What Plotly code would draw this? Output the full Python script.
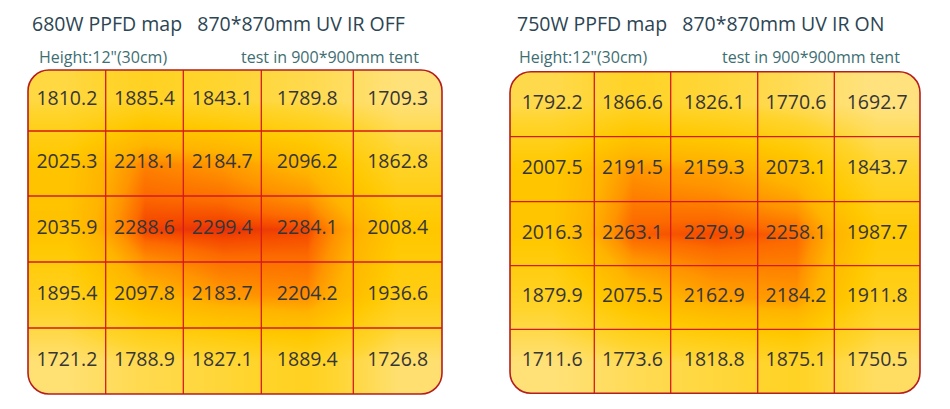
import plotly.graph_objects as go

# ---------------- data ----------------
panel_titles = ["680W PPFD map   870*870mm UV IR OFF", "750W PPFD map   870*870mm UV IR ON"]
height_labels = ['Height:12"(30cm)', 'Height:12"(30cm)']
tent_labels = ["test in 900*900mm tent", "test in 900*900mm tent"]

ppfd_off = [
    [1810.2, 1885.4, 1843.1, 1789.8, 1709.3],
    [2025.3, 2218.1, 2184.7, 2096.2, 1862.8],
    [2035.9, 2288.6, 2299.4, 2284.1, 2008.4],
    [1895.4, 2097.8, 2183.7, 2204.2, 1936.6],
    [1721.2, 1788.9, 1827.1, 1889.4, 1726.8],
]
ppfd_on = [
    [1792.2, 1866.6, 1826.1, 1770.6, 1692.7],
    [2007.5, 2191.5, 2159.3, 2073.1, 1843.7],
    [2016.3, 2263.1, 2279.9, 2258.1, 1987.7],
    [1879.9, 2075.5, 2162.9, 2184.2, 1911.8],
    [1711.6, 1773.6, 1818.8, 1875.1, 1750.5],
]

# ---------------- layout (pixel geometry) ----------------
W, H = 950, 409
panels = [
    dict(z=ppfd_off,
         xe=[28, 105.7, 183.3, 261.3, 353.3, 442],
         ye=[70, 131, 196, 262, 328, 394],
         title_x=30, sub_x=37, tent_x=421),
    dict(z=ppfd_on,
         xe=[510, 594.3, 670.7, 757.7, 834.3, 920],
         ye=[71.7, 136.7, 201.7, 265.7, 329.3, 393.3],
         title_x=515, sub_x=517, tent_x=902),
]

colorscale = [
    [0.00, "#FFE27E"],
    [0.25, "#FFD42C"],
    [0.50, "#FFC800"],
    [0.70, "#FFB400"],
    [0.82, "#FF9400"],
    [0.92, "#FC6A00"],
    [0.97, "#F44800"],
    [1.00, "#E6300A"],
]
ZMIN, ZMAX = 1700, 2300

GRID = "#D41A1A"
BORDER = "#B51E1E"
K = 0.5523
FONT = "Open Sans"


def rounded_rect(x0, y0, x1, y1, r):
    k = r * (1 - K)
    return (f"M {x0+r},{y0} L {x1-r},{y0} C {x1-k},{y0} {x1},{y0+k} {x1},{y0+r} "
            f"L {x1},{y1-r} C {x1},{y1-k} {x1-k},{y1} {x1-r},{y1} "
            f"L {x0+r},{y1} C {x0+k},{y1} {x0},{y1-k} {x0},{y1-r} "
            f"L {x0},{y0+r} C {x0},{y0+k} {x0+k},{y0} {x0+r},{y0} Z")


def corner_masks(x0, y0, x1, y1, r, e=3):
    k = r * (1 - K)
    return [
        f"M {x0-e},{y0-e} L {x0+r},{y0-e} L {x0+r},{y0} C {x0+k},{y0} {x0},{y0+k} {x0},{y0+r} L {x0-e},{y0+r} Z",
        f"M {x1+e},{y0-e} L {x1-r},{y0-e} L {x1-r},{y0} C {x1-k},{y0} {x1},{y0+k} {x1},{y0+r} L {x1+e},{y0+r} Z",
        f"M {x0-e},{y1+e} L {x0+r},{y1+e} L {x0+r},{y1} C {x0+k},{y1} {x0},{y1-k} {x0},{y1-r} L {x0-e},{y1-r} Z",
        f"M {x1+e},{y1+e} L {x1-r},{y1+e} L {x1-r},{y1} C {x1-k},{y1} {x1},{y1-k} {x1},{y1-r} L {x1+e},{y1-r} Z",
    ]


fig = go.Figure()
shapes = []
annotations = []
R = 21

for i, p in enumerate(panels):
    xe, ye, z = p["xe"], p["ye"], p["z"]
    fig.add_trace(go.Heatmap(
        z=z, x=xe, y=ye, zmin=ZMIN, zmax=ZMAX, colorscale=colorscale,
        zsmooth="best", showscale=False, hoverinfo="skip"))
    xc = [(xe[j] + xe[j + 1]) / 2 for j in range(len(xe) - 1)]
    yc = [(ye[j] + ye[j + 1]) / 2 for j in range(len(ye) - 1)]
    tx, ty, tt = [], [], []
    for r_i, row in enumerate(z):
        for c_i, v in enumerate(row):
            tx.append(xc[c_i]); ty.append(yc[r_i]); tt.append(f"{v:.1f}")
    fig.add_trace(go.Scatter(
        x=tx, y=ty, text=tt, mode="text", textposition="middle center",
        textfont=dict(family=FONT, size=19.5, color="#363636"),
        hoverinfo="skip", showlegend=False))

    x0, x1, y0, y1 = xe[0], xe[-1], ye[0], ye[-1]
    for path in corner_masks(x0, y0, x1, y1, R):
        shapes.append(dict(type="path", path=path, fillcolor="white",
                           line=dict(width=0), layer="above"))
    for xv in xe[1:-1]:
        shapes.append(dict(type="line", x0=xv, x1=xv, y0=y0, y1=y1,
                           line=dict(color=GRID, width=1.3), layer="above"))
    for yv in ye[1:-1]:
        shapes.append(dict(type="line", x0=x0, x1=x1, y0=yv, y1=yv,
                           line=dict(color=GRID, width=1.3), layer="above"))
    shapes.append(dict(type="path", path=rounded_rect(x0, y0, x1, y1, R),
                       line=dict(color=BORDER, width=1.6), layer="above"))

    annotations.append(dict(x=p["title_x"], y=23, xref="x", yref="y", text=panel_titles[i],
                            xanchor="left", yanchor="middle", showarrow=False,
                            font=dict(family=FONT, size=19.5, color="#2C4553")))
    annotations.append(dict(x=p["sub_x"], y=57, xref="x", yref="y", text=height_labels[i],
                            xanchor="left", yanchor="middle", showarrow=False,
                            font=dict(family=FONT, size=16, color="#3E6E72")))
    annotations.append(dict(x=p["tent_x"], y=57, xref="x", yref="y", text=tent_labels[i],
                            xanchor="right", yanchor="middle", showarrow=False,
                            font=dict(family=FONT, size=16, color="#3E6E72")))

fig.update_layout(
    width=W, height=H, margin=dict(l=0, r=0, t=0, b=0),
    paper_bgcolor="white", plot_bgcolor="white", showlegend=False,
    xaxis=dict(range=[0, W], domain=[0, 1], visible=False, fixedrange=True),
    yaxis=dict(range=[H, 0], domain=[0, 1], visible=False, fixedrange=True),
    shapes=shapes, annotations=annotations,
)

fig.write_html("out.html")
